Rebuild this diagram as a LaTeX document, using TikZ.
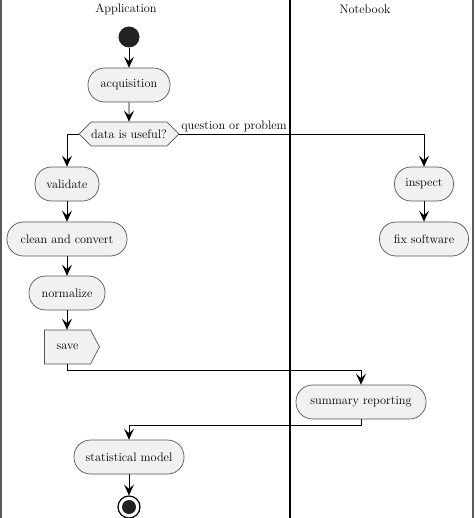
\documentclass[tikz,border=0pt]{standalone}
\usetikzlibrary{arrows.meta,shapes.symbols,calc}
\definecolor{nodefill}{HTML}{F1F1F1}
\definecolor{nodeline}{HTML}{555555}
\definecolor{dot}{HTML}{222222}
\tikzset{
  txt/.style={font=\fontsize{12.3}{14}\selectfont},
  act/.style={txt, draw=nodeline, fill=nodefill, line width=0.7pt, rounded corners=16.5pt,
    minimum height=34pt, inner sep=0pt},
  dec/.style={txt, draw=nodeline, fill=nodefill, line width=0.7pt, shape=signal,
    signal to=west and east, minimum height=24pt, inner sep=0pt},
  sendbox/.style={txt, draw=nodeline, fill=nodefill, line width=0.7pt, shape=signal,
    signal to=east, signal pointer angle=124, minimum height=34pt, inner sep=0pt},
  flow/.style={line width=0.9pt, -{Stealth[length=11pt,width=10pt,inset=4.5pt]}},
}
\begin{document}
\begin{tikzpicture}[x=1pt,y=-1pt]
\useasboundingbox (0,0) rectangle (474,518);
% swimlanes
\draw[line width=2pt, gray!70!black] (1,0) -- (1,518);
\draw[line width=2pt, gray!70!black] (473,0) -- (473,518);
\draw[line width=1.5pt] (290,0) -- (290,518);
\node[txt] (tapp) at (126,9) {Application};
\node[txt] (tnb) at (365,9) {Notebook};
% nodes
\node[circle, fill=dot, minimum size=21pt, inner sep=0pt] (start) at (129,37) {};
\node[act, minimum width=82pt] (acq) at (129,85) {acquisition};
\node[dec, minimum width=98pt] (dec) at (129,134) {data is useful?};
\node[act, minimum width=64pt] (val) at (67,184) {validate};
\node[act, minimum width=120pt] (clean) at (67,239) {clean and convert};
\node[act, minimum width=76pt] (norm) at (67,293) {normalize};
\node[sendbox, minimum width=55pt, text width=38pt, align=center] (save) at (67.5,347) {save};
\node[act, minimum width=59pt] (insp) at (424,184) {inspect};
\node[act, minimum width=89pt] (fix) at (424,239) {fix software};
\node[act, minimum width=130pt] (summ) at (361,402) {summary reporting};
\node[act, minimum width=110pt] (stat) at (129,457) {statistical model};
\node[circle, draw=black, fill=white, line width=1.2pt, minimum size=22pt, inner sep=0pt] (end) at (129,507) {};
\node[circle, fill=dot, minimum size=14pt, inner sep=0pt] (endin) at (end.center) {};
% connectors
\draw[flow] (start) -- (acq);
\draw[flow] (acq) -- (dec);
\draw[flow] (dec.west) -| (val.north);
\draw[flow] (dec.east) -| node[pos=0, anchor=south west, inner sep=1.5pt, txt] (lbl) {question or problem} (insp.north);
\draw[flow] (val) -- (clean);
\draw[flow] (clean) -- (norm);
\draw[flow] (norm.south) -- (norm.south |- save.north);
\draw[flow] (insp) -- (fix);
\draw[flow] (save.south -| norm.south) -- ++(0,6) -| (summ.north);
\draw[flow] (summ.south) -- ++(0,6) -| (stat.north);
\draw[flow] (stat) -- (end);
\end{tikzpicture}
\end{document}
